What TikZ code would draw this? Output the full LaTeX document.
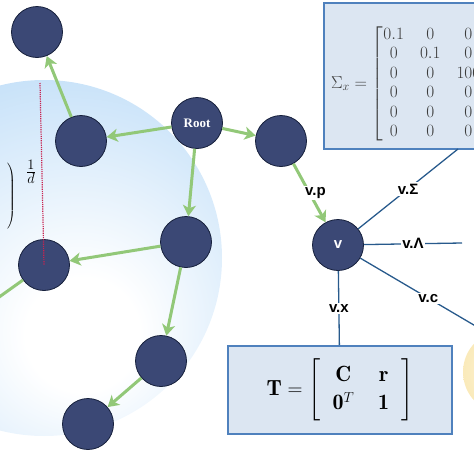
\documentclass[tikz,border=0pt]{standalone}
\usepackage{amsmath}
\usepackage{fontspec}
\usetikzlibrary{arrows.meta}
\usetikzlibrary{shapes}
\newfontfamily\lblfont{Liberation Sans}
\newfontfamily\rootfont{Liberation Serif}
\definecolor{navy}{RGB}{59,72,117}
\definecolor{navyline}{RGB}{22,32,60}
\definecolor{leaf}{RGB}{146,200,120}
\definecolor{wireblue}{RGB}{40,90,140}
\definecolor{boxfill}{RGB}{220,230,242}
\definecolor{boxline}{RGB}{79,129,189}
\definecolor{sphereblue}{RGB}{158,204,244}
\definecolor{sand}{RGB}{250,234,186}
\definecolor{sandlight}{RGB}{253,244,218}
\definecolor{dotred}{RGB}{200,35,80}
\definecolor{matgray}{RGB}{60,60,60}
\pgfdeclareradialshading{sphere}{\pgfpoint{6bp}{-12bp}}{color(0bp)=(white); color(8bp)=(white); color(52bp)=(sphereblue); color(80bp)=(sphereblue)}

\begin{document}
\begin{tikzpicture}[x=1pt,y=-1pt,
  ball/.style={circle, draw=navyline, line width=0.8pt, fill=navy, minimum size=51pt, inner sep=0pt, text=white},
  treelink/.style={draw=leaf, line width=3pt, -{Stealth[length=11pt,width=13pt,inset=3pt]}},
  fieldlink/.style={draw=wireblue, line width=1.3pt},
  lbl/.style={fill=white, inner sep=1.5pt, font=\lblfont\bfseries\fontsize{15}{18}\selectfont},
  panel/.style={draw=boxline, line width=1.6pt, fill=boxfill}]
\useasboundingbox (0,0) rectangle (474,474);
\clip (0,0) rectangle (474,474);

% sphere and yellow disc
\shade[shading=sphere] (44,258) circle[radius=178pt];
\node[circle, minimum size=84pt, inner color=sandlight, outer color=sand] (cyel) at (505,372) {};

% boxes
\node[panel, minimum width=180pt, minimum height=146pt] (sigbox) at (414,76) {};
\node[anchor=west, inner sep=0pt, text=matgray] (sig) at (331,84)
  {\fontsize{17}{19.5}\selectfont\setlength{\arraycolsep}{8pt}$\Sigma_x = \begin{bmatrix} 0.1 & 0 & 0 \\ 0 & 0.1 & 0 \\ 0 & 0 & 100 \\ 0 & 0 & 0 \\ 0 & 0 & 0 \\ 0 & 0 & 0 \end{bmatrix}$};
\node[panel, minimum width=224pt, minimum height=88pt] (tbox) at (340,390)
  {\fontsize{22}{28}\selectfont\setlength{\arraycolsep}{12pt}$\mathbf{T} = \left[\begin{array}{cc} \mathbf{C} & \mathbf{r} \\ \mathbf{0}^{T} & \mathbf{1} \end{array}\right]$};

% tree nodes
\node[ball] (top) at (37,32) {};
\node[ball] (upper) at (81,141) {};
\node[ball, font=\rootfont\bfseries\fontsize{13}{15}\selectfont] (root) at (197,123) {Root};
\node[ball] (hop) at (281,141) {};
\node[ball] (mid) at (186,242) {};
\node[ball] (core) at (44,265) {};
\node[ball] (low) at (161,361) {};
\node[ball] (foot) at (88,424) {};
\node[ball, font=\lblfont\bfseries\fontsize{15}{18}\selectfont] (v) at (338,245) {v};

% radius mark
\coordinate (radtop) at (40,83);
\draw[dotred, densely dotted, line width=1.2pt] (radtop) -- (core.center);
\node (paren) at (11,196) {$\left.\rule[-31pt]{0pt}{62pt}\right)$};
\node (expo) at (31,172) {\fontsize{19}{23}\selectfont$\frac{1}{d}$};

% tree edges
\coordinate (exit) at (-40,325);
\draw[treelink] (root) -- (upper);
\draw[treelink] (upper) -- (top);
\draw[treelink] (root) -- (mid);
\draw[treelink] (root) -- (hop);
\draw[treelink] (mid) -- (core);
\draw[treelink] (mid) -- (low);
\draw[treelink] (low) -- (foot);
\draw[treelink] (core) -- (exit);
\draw[treelink] (hop) -- node[lbl, xshift=6pt] {v.p} (v);

% fields of v
\coordinate (sigfoot) at (458,149);
\coordinate (lamend) at (462,243);
\coordinate (cend) at (484,331);
\draw[fieldlink] (v) -- node[lbl] {v.Σ} (sigfoot);
\draw[fieldlink] (v) -- node[lbl] {v.Λ} (lamend);
\draw[fieldlink] (v) -- node[lbl, pos=0.55] {v.c} (cend);
\draw[fieldlink] (v) -- node[lbl] {v.x} (tbox);
\end{tikzpicture}
\end{document}
